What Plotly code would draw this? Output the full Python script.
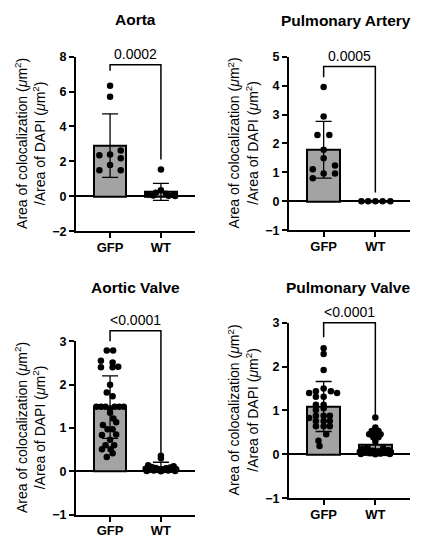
"""
Colocalización GFP vs WT en cuatro tejidos (barras media ± DE con puntos individuales)
"""

import plotly.graph_objects as go

# ---------------------------------------------------------------------------
# Datos
# ---------------------------------------------------------------------------
grupos = ["GFP", "WT"]
titulos = ["Aorta", "Pulmonary Artery", "Aortic Valve", "Pulmonary Valve"]
p_valores = ["0.0002", "0.0005", "<0.0001", "<0.0001"]

# Aorta
aorta_gfp = [6.33, 5.70, 2.63, 2.40, 2.35, 2.18, 1.79, 1.49, 1.49]
aorta_gfp_dx = [0, 0, 0.21, 0, -0.21, 0.21, 0, -0.21, 0.21]
aorta_wt = [1.53, 0.35, 0.20, 0.14, 0.10, 0.07, 0.05, 0.03, 0.02]
aorta_wt_dx = [0, 0, -0.1, 0.1, -0.25, 0.25, -0.15, 0.15, 0.28]
aorta_media = [2.90, 0.25]
aorta_de = [1.82, 0.49]
aorta_corchete = [7.54, 7.2, 2.1]  # techo, pata GFP, pata WT

# Pulmonary Artery
arteria_gfp = [3.95, 2.93, 2.29, 2.29, 1.78, 1.49, 1.24, 1.11, 0.96, 0.96, 0.80]
arteria_gfp_dx = [0, 0, -0.12, 0.11, 0, 0, 0.22, -0.21, 0, 0.22, -0.21]
arteria_wt = [0, 0, 0, 0, 0]
arteria_wt_dx = [-0.27, -0.14, 0, 0.14, 0.29]
arteria_media = [1.78, 0]
arteria_de = [0.98, 0]
arteria_corchete = [4.66, 4.29, 0.3]

# Aortic Valve
valvao_gfp = [2.79, 2.79, 2.55, 2.51, 2.40, 2.40, 2.41, 2.00, 1.82, 1.73,
              1.49, 1.49, 1.49, 1.45, 1.49, 1.49, 1.49, 1.35, 1.22, 1.07,
              1.13, 0.97, 0.97, 0.84, 0.85, 0.73, 0.60, 0.60, 0.51, 0.51,
              0.42, 0.33]
valvao_gfp_dx = [-0.065, 0.06, -0.18, 0.05, -0.18, 0.05, 0.16, 0, -0.065, 0.05,
                 -0.27, -0.18, -0.09, 0, 0.09, 0.18, 0.27, 0, 0.065, -0.14,
                 0.12, -0.05, 0.05, -0.16, 0.12, 0, -0.09, 0.08, -0.16, 0.01,
                 0.05, -0.065]
valvao_wt = [0.36, 0.30, 0.14, 0.12, 0.10, 0.09, 0.08, 0.07, 0.06, 0.05,
             0.05, 0.04, 0.04, 0.03, 0.03, 0.02, 0.02, 0.01, 0.01, 0.0]
valvao_wt_dx = [0, 0, -0.25, 0.25, -0.18, 0.18, -0.1, 0.1, -0.3, 0.3,
                0, -0.22, 0.22, -0.05, 0.05, -0.14, 0.14, -0.28, 0.28, 0]
valvao_media = [1.48, 0.10]
valvao_de = [0.72, 0.11]
valvao_corchete = [3.24, 3.0, 0.43]

# Pulmonary Valve
valvpu_gfp = [2.42, 2.29, 1.92, 1.40, 1.44, 1.50, 1.44, 1.40, 1.31, 1.31,
              1.13, 1.13, 1.01, 1.05, 0.83, 0.88, 0.88, 0.88, 0.76, 0.76,
              0.76, 0.64, 0.64, 0.64, 0.46, 0.31, 0.19]
valvpu_gfp_dx = [0, 0, 0, -0.28, -0.15, 0, 0.14, 0.26, -0.15, 0,
                 -0.15, 0, -0.15, 0, -0.28, -0.15, 0, 0.12, -0.15, 0,
                 0.12, -0.15, 0, 0.12, 0.05, -0.1, -0.08]
valvpu_wt = [0.84, 0.61, 0.53, 0.53, 0.46, 0.46, 0.46, 0.39, 0.39, 0.29,
             0.16, 0.14, 0.12, 0.10, 0.08, 0.07, 0.06, 0.05, 0.04, 0.03,
             0.03, 0.02, 0.02, 0.01, 0.01, 0.0]
valvpu_wt_dx = [0, 0, -0.07, 0.06, -0.12, 0, 0.1, -0.04, 0.06, 0,
                -0.15, 0.15, -0.25, 0.25, -0.05, 0.05, -0.3, 0.3, -0.2, 0.2,
                -0.1, 0.1, 0, -0.28, 0.28, 0]
valvpu_media = [1.09, 0.22]
valvpu_de = [0.57, 0.25]
valvpu_corchete = [3.0, 2.67, 0.87]

# ---------------------------------------------------------------------------
# Estilo / geometría (en píxeles de una figura de 425x550)
# ---------------------------------------------------------------------------
W, H = 425, 550
FUENTE = "Liberation Sans, Arial, sans-serif"
GRIS = "#A3A3A3"
NEGRO = "#000000"

# x0, x1 (px), y_sup, y_inf (px), rango y, dtick, centro título (x, y)
paneles = [
    dict(x0=76, x1=195, ysup=51, yinf=230, rango=[-2, 8], dtick=2, tx=135, ty=13),
    dict(x0=289, x1=410, ysup=51, yinf=229, rango=[-1, 5], dtick=1, tx=346, ty=14),
    dict(x0=76, x1=195, ysup=343, yinf=521, rango=[-1, 3], dtick=1, tx=135, ty=288),
    dict(x0=289, x1=410, ysup=324, yinf=504, rango=[-1, 3], dtick=1, tx=348, ty=288),
]

datos = [
    (aorta_gfp, aorta_gfp_dx, aorta_wt, aorta_wt_dx, aorta_media, aorta_de, aorta_corchete),
    (arteria_gfp, arteria_gfp_dx, arteria_wt, arteria_wt_dx, arteria_media, arteria_de, arteria_corchete),
    (valvao_gfp, valvao_gfp_dx, valvao_wt, valvao_wt_dx, valvao_media, valvao_de, valvao_corchete),
    (valvpu_gfp, valvpu_gfp_dx, valvpu_wt, valvpu_wt_dx, valvpu_media, valvpu_de, valvpu_corchete),
]

TITULO_Y = ("Area of colocalization (<i>μ</i>m<sup>2</sup>)<br>"
            "/Area of DAPI (<i>μ</i>m<sup>2</sup>)")

fig = go.Figure()
layout = {}
anotaciones = []
EXTRA = 0.06  # dominio extra del eje oculto para los corchetes

for i, (p, d) in enumerate(zip(paneles, datos)):
    gfp, gfp_dx, wt, wt_dx, media, de, corchete = d
    n = i + 1
    sfx = "" if n == 1 else str(n)
    xa, ya, yb = f"x{sfx}", f"y{sfx}", f"y{n + 4}"

    dom_x = [p["x0"] / W, p["x1"] / W]
    dom_y = [1 - p["yinf"] / H, 1 - p["ysup"] / H]
    lo, hi = p["rango"]
    hi_ext = hi + EXTRA * (hi - lo) / (dom_y[1] - dom_y[0])

    layout[f"xaxis{sfx}"] = dict(
        domain=dom_x, anchor=ya, range=[-0.67, 1.67],
        tickvals=[0, 1], ticktext=grupos,
        showline=True, linecolor=NEGRO, linewidth=2,
        ticks="outside", ticklen=5, tickwidth=2, tickcolor=NEGRO,
        ticklabelstandoff=-2,
        tickfont=dict(family=FUENTE, size=13, color=NEGRO, weight="bold"),
        showgrid=False, zeroline=False, fixedrange=True,
    )
    layout[f"yaxis{sfx}"] = dict(
        domain=dom_y, anchor=xa, range=[lo, hi], dtick=p["dtick"], tick0=0,
        showline=True, linecolor=NEGRO, linewidth=2,
        ticks="outside", ticklen=5, tickwidth=2, tickcolor=NEGRO,
        tickfont=dict(family=FUENTE, size=12.5, color=NEGRO, weight="bold"),
        showgrid=False, zeroline=True, zerolinecolor=NEGRO, zerolinewidth=2,
        fixedrange=True,
    )
    layout[f"yaxis{n + 4}"] = dict(
        domain=[dom_y[0], dom_y[1] + EXTRA], anchor=xa, range=[lo, hi_ext],
        visible=False, fixedrange=True,
    )

    # barras con DE
    fig.add_trace(go.Bar(
        x=[0, 1], y=media, width=0.63, xaxis=xa, yaxis=ya,
        marker=dict(color=GRIS, line=dict(color=NEGRO, width=2)),
        error_y=dict(type="data", array=de, visible=True,
                     color=NEGRO, thickness=1.3, width=8),
        showlegend=False, hoverinfo="skip",
    ))
    # puntos individuales
    fig.add_trace(go.Scatter(
        x=[0 + dx for dx in gfp_dx] + [1 + dx for dx in wt_dx],
        y=gfp + wt, mode="markers", xaxis=xa, yaxis=ya,
        marker=dict(color=NEGRO, size=6.5, line=dict(width=0)),
        cliponaxis=False, showlegend=False,
    ))
    # corchete de significación
    techo, pata_gfp, pata_wt = corchete
    fig.add_trace(go.Scatter(
        x=[0, 0, 1, 1], y=[pata_gfp, techo, techo, pata_wt],
        mode="lines", xaxis=xa, yaxis=yb,
        line=dict(color=NEGRO, width=1.5),
        showlegend=False, hoverinfo="skip",
    ))
    anotaciones.append(dict(
        x=0.5, y=techo, xref=xa, yref=yb, text=p_valores[i],
        showarrow=False, yanchor="bottom", yshift=1,
        font=dict(family=FUENTE, size=14, color=NEGRO),
    ))
    # título del panel
    anotaciones.append(dict(
        x=p["tx"] / W, y=1 - p["ty"] / H, xref="paper", yref="paper",
        text=f"<b>{titulos[i]}</b>", showarrow=False,
        xanchor="center", yanchor="middle",
        font=dict(family=FUENTE, size=15.5, color=NEGRO),
    ))
    # título del eje y
    anotaciones.append(dict(
        x=(p["x0"] - 46) / W, y=(dom_y[0] + dom_y[1]) / 2,
        xref="paper", yref="paper", text=TITULO_Y, textangle=-90,
        showarrow=False, xanchor="center", yanchor="middle",
        font=dict(family=FUENTE, size=14, color=NEGRO),
    ))

fig.update_layout(
    **layout,
    annotations=anotaciones,
    width=W, height=H,
    margin=dict(l=0, r=0, t=0, b=0),
    # fondo transparente: los ejes ocultos de los corchetes se superponen
    paper_bgcolor="white", plot_bgcolor="rgba(0,0,0,0)",
    bargap=0, showlegend=False,
)

fig.write_html(
    "out.html",
    config={"displayModeBar": False},
    post_script="document.body.style.margin = '0';",
)
